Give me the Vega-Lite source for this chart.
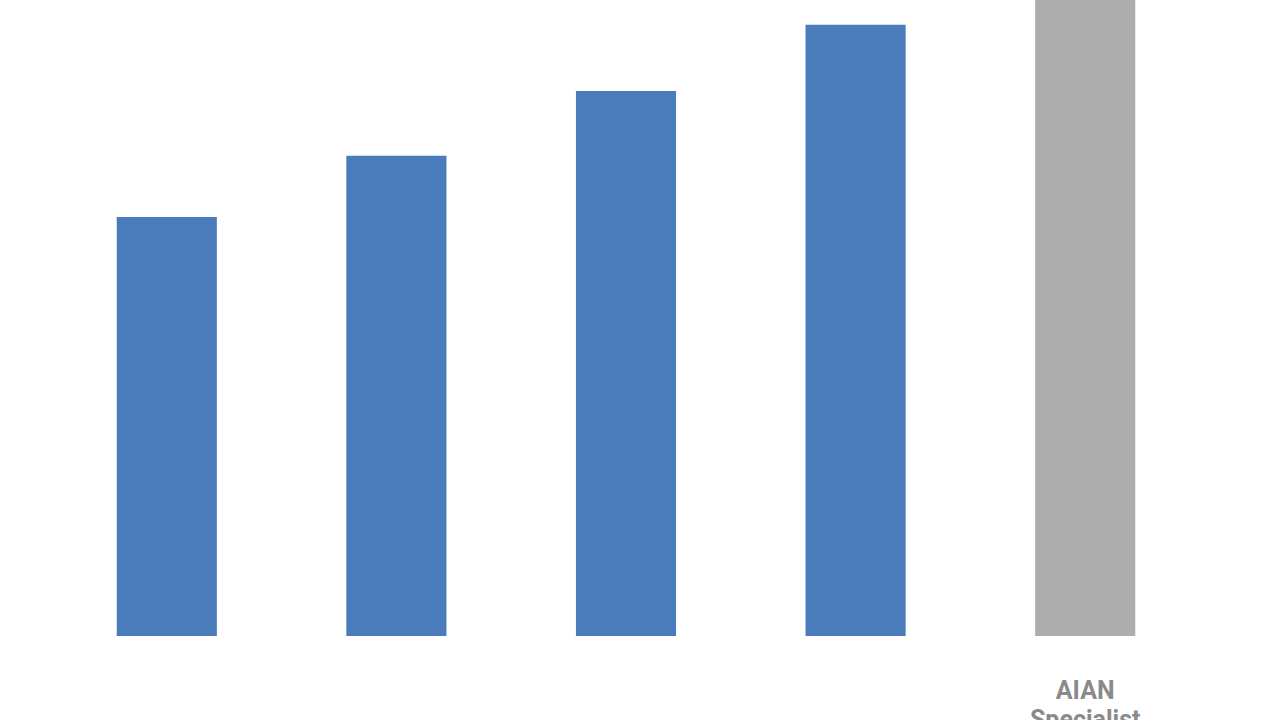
{
  "$schema": "https://vega.github.io/schema/vega-lite/v6.json",
  "autosize": {"type": "none"},
  "width": 1148,
  "height": 636,
  "padding": {"left": 52, "top": 0, "right": 80, "bottom": 84},
  "background": "white",
  "config": {"view": {"stroke": null}},
  "data": {
    "values": [
      {"group": "Group 1", "value": 65.9, "kind": "other"},
      {"group": "Group 2", "value": 75.5, "kind": "other"},
      {"group": "Group 3", "value": 85.7, "kind": "other"},
      {"group": "Group 4", "value": 96.1, "kind": "other"},
      {"group": "AIAN Specialist", "value": 100, "kind": "aian"}
    ]
  },
  "mark": {"type": "bar", "clip": true},
  "encoding": {
    "x": {
      "field": "group",
      "type": "nominal",
      "sort": null,
      "scale": {"paddingInner": 0.564, "paddingOuter": 0.282},
      "axis": {
        "title": null,
        "domain": false,
        "ticks": false,
        "labelAngle": 0,
        "labelPadding": 42,
        "labelFontSize": 25,
        "labelFont": "Liberation Sans Narrow, Roboto, sans-serif",
        "labelFontWeight": "bold",
        "labelColor": "#8a8a8a",
        "labelLineHeight": 29,
        "labelExpr": "datum.value == 'AIAN Specialist' ? ['AIAN', 'Specialist'] : ''"
      }
    },
    "y": {
      "field": "value",
      "type": "quantitative",
      "scale": {"domain": [0, 100], "nice": false},
      "axis": null
    },
    "color": {
      "field": "kind",
      "type": "nominal",
      "scale": {"domain": ["other", "aian"], "range": ["#4A7BBA", "#ADADAD"]},
      "legend": null
    }
  }
}
